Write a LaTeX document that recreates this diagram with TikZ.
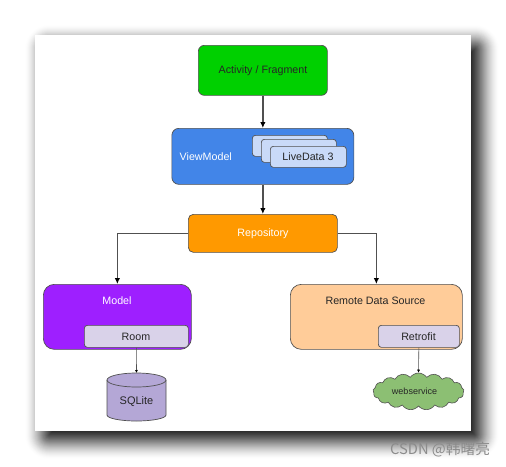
\documentclass[tikz,border=0pt]{standalone}
\usepackage{fontspec}
\setmainfont{Liberation Sans}
\newfontfamily\cjk{Noto Sans CJK SC}
\usetikzlibrary{shapes.symbols,arrows.meta}
\definecolor{cgreen}{HTML}{00D000}
\definecolor{cblue}{HTML}{4285E8}
\definecolor{clight}{HTML}{C9DAF8}
\definecolor{corange}{HTML}{FF9900}
\definecolor{cpurple}{HTML}{9E1FFF}
\definecolor{cpeach}{HTML}{FFCC99}
\definecolor{clav}{HTML}{D9D2E9}
\definecolor{cdb}{HTML}{B4A7D6}
\definecolor{ccloud}{HTML}{8CBF73}
\definecolor{cedge}{HTML}{505050}
\tikzset{
  box/.style={draw=cedge,line width=0.7pt,rounded corners=#1,inner sep=0pt,anchor=north west},
  box/.default=7pt,
  sz/.style 2 args={minimum width=#1pt,minimum height=#2pt},
  lbl/.style={font=\fontsize{10.7}{12}\selectfont,inner sep=0pt,text=black!85},
  conn/.style={draw=cedge,line width=1.5pt,-{Latex[length=6pt,width=5.5pt,black]}},
  thin conn/.style={draw=cedge,line width=0.6pt,-{Latex[length=3pt,width=3pt,black]}},
}
\begin{document}
\begin{tikzpicture}[x=1pt,y=-1pt]
\useasboundingbox (0,0) rectangle (506,466);
\fill[white] (0,0) rectangle (506,466);
% blurred drop shadow of the page: smoothstep profile over 40 px
\foreach \i in {1,...,40}{
  \pgfmathsetmacro{\tt}{\i/40}
  \pgfmathsetmacro{\curT}{0.98*\tt*\tt*(3-2*\tt)}
  \pgfmathsetmacro{\prevt}{(\i-1)/40}
  \pgfmathsetmacro{\lastT}{0.98*\prevt*\prevt*(3-2*\prevt)}
  \pgfmathsetmacro{\al}{1-(1-\curT)/(1-\lastT)}
  \pgfmathsetmacro{\rad}{max(26-\i,0.1)}
  \fill[black,opacity=\al,rounded corners=\rad pt]
    ({23+\i},{23+\i}) rectangle ({501-\i},{461-\i});
}
\fill[white] (35,35) rectangle (471,431);

\node[box=6pt,fill=cgreen,sz={129}{50}] (act) at (198,45) {};
\node[lbl] (actt) at (263,71) {Activity / Fragment};

\node[box=7pt,fill=cblue,sz={182}{56}] (vm) at (171.5,128) {};
\node[lbl,text=white,anchor=west] (vmt) at (179.5,157) {ViewModel};
\node[box=3pt,fill=clight,sz={75}{21}] (ld1) at (252,135) {};
\node[box=3pt,fill=clight,sz={75}{23}] (ld2) at (261,139) {};
\node[box=3pt,fill=clight,sz={76}{21}] (ld3) at (270,146) {};
\node[lbl] (ld3t) at (308,157) {LiveData 3};

\node[box=5pt,fill=corange,sz={149}{38}] (repo) at (188,214) {};
\node[lbl,text=white] (repot) at (263,234) {Repository};

\node[box=11pt,fill=cpurple,sz={148}{65}] (model) at (43,284) {};
\node[lbl,text=white] (modelt) at (117,300.5) {Model};
\node[box=3pt,fill=clav,sz={104}{22}] (room) at (84,325) {};
\node[lbl] (roomt) at (136,337) {Room};

\node[box=11pt,fill=cpeach,sz={172}{65}] (remote) at (290,284) {};
\node[lbl] (remotet) at (375.5,300.5) {Remote Data Source};
\node[box=3pt,fill=clav,sz={81}{22}] (retro) at (378,325) {};
\node[lbl] (retrot) at (418.5,337) {Retrofit};

% SQLite cylinder (y axis points down, so angles run the other way)
\path[draw=cedge,line width=0.7pt,fill=cdb] (107,380) arc[x radius=29.5,y radius=7,start angle=180,end angle=360]
  -- (166,415) arc[x radius=29.5,y radius=6,start angle=0,end angle=180] -- cycle;
\draw[cedge,line width=0.7pt] (107,380) arc[x radius=29.5,y radius=7,start angle=180,end angle=0];
\coordinate (dbtop) at (136.5,373);
\node[lbl,font=\fontsize{11}{13}\selectfont] (dbt) at (136.5,402) {SQLite};

\node[cloud,cloud puffs=17,cloud puff arc=110,aspect=2.4,draw=cedge,line width=0.6pt,fill=ccloud,
  minimum width=91pt,minimum height=37pt,inner sep=0pt] (web) at (418.5,391.5) {};
\node[lbl,font=\fontsize{9}{10}\selectfont] (webt) at (414.5,391) {webservice};

\draw[conn] (act.south) -- (vm.north);
\draw[conn] (vm.south) -- (repo.north);
\draw[conn] (repo.west) -| (model.north);
\draw[conn] (repo.east) -| (remote.north);
\draw[thin conn] (room.south) -- (dbtop);
\draw[thin conn] (retro.south) -- (web.north);

\node[font=\cjk\fontsize{14.7}{16}\selectfont,text=black!45,anchor=west,inner sep=0pt] (wm) at (390,450) {CSDN @韩曙亮};
\end{tikzpicture}
\end{document}
